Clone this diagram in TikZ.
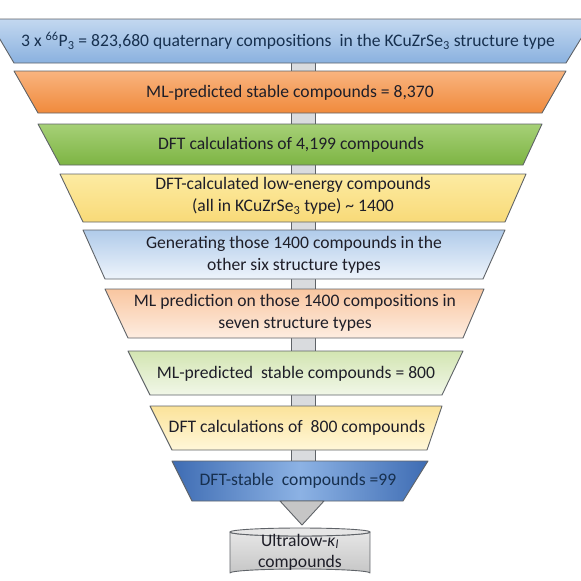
\documentclass[tikz,border=0pt]{standalone}
\usepackage{fontspec}
\setmainfont{Carlito}
\usepackage{tikz}

\definecolor{edgegray}{HTML}{5F6368}
\definecolor{linkgray}{HTML}{D9DBDE}
\definecolor{inkdark}{HTML}{1E1E28}
\definecolor{inknavy}{HTML}{17304F}
\definecolor{boxAtop}{HTML}{C3D8F0}
\definecolor{boxAbot}{HTML}{8AB1DF}
\definecolor{boxBtop}{HTML}{F9B47F}
\definecolor{boxBbot}{HTML}{F08A3C}
\definecolor{boxCtop}{HTML}{A6D077}
\definecolor{boxCbot}{HTML}{7DB443}
\definecolor{boxDtop}{HTML}{FDEBA2}
\definecolor{boxDbot}{HTML}{F8DA78}
\definecolor{boxEtop}{HTML}{B0CBEA}
\definecolor{boxEbot}{HTML}{EEF4FB}
\definecolor{boxFtop}{HTML}{F9C6A0}
\definecolor{boxFbot}{HTML}{FDEDE1}
\definecolor{boxGtop}{HTML}{D3E5B2}
\definecolor{boxGbot}{HTML}{F1F7E8}
\definecolor{boxHtop}{HTML}{FBE39A}
\definecolor{boxHbot}{HTML}{FFF7D9}
\definecolor{boxIside}{HTML}{3E6CB3}
\definecolor{boxImid}{HTML}{8CB2E4}
\definecolor{cyltop}{HTML}{E6E6E6}
\definecolor{cylbot}{HTML}{C6C6C6}

\begin{document}
\begin{tikzpicture}[x=1pt,y=-1pt,
	stage/.style={draw=edgegray,line width=0.9pt,line join=round},
	link/.style={draw=edgegray,fill=linkgray,line width=0.9pt},
	lbl/.style={align=center,text=inkdark,inner sep=0pt,font=\fontsize{17.6}{22.5}\selectfont}]
	\useasboundingbox (0,0) rectangle (581,581);
	\coordinate (B1) at (303,63);  \coordinate (T2) at (303,71);
	\coordinate (B2) at (303,113); \coordinate (T3) at (303,124);
	\coordinate (B3) at (303,165); \coordinate (T4) at (303,174);
	\coordinate (B4) at (303,222); \coordinate (T5) at (303,230);
	\coordinate (B5) at (303,279); \coordinate (T6) at (303,289);
	\coordinate (B6) at (303,338); \coordinate (T7) at (303,351);
	\coordinate (B7) at (303,395); \coordinate (T8) at (303,406);
	\coordinate (B8) at (303,450); \coordinate (T9) at (303,461);
	\coordinate (B9) at (302,501); \coordinate (T10) at (300,528);
	\draw[link] ([xshift=-12pt,yshift=2pt]B1) rectangle ([xshift=12pt,yshift=-2pt]T2);
	\draw[link] ([xshift=-12pt,yshift=2pt]B2) rectangle ([xshift=12pt,yshift=-2pt]T3);
	\draw[link] ([xshift=-12pt,yshift=2pt]B3) rectangle ([xshift=12pt,yshift=-2pt]T4);
	\draw[link] ([xshift=-12pt,yshift=2pt]B4) rectangle ([xshift=12pt,yshift=-2pt]T5);
	\draw[link] ([xshift=-12pt,yshift=2pt]B5) rectangle ([xshift=12pt,yshift=-2pt]T6);
	\draw[link] ([xshift=-12pt,yshift=2pt]B6) rectangle ([xshift=12pt,yshift=-2pt]T7);
	\draw[link] ([xshift=-12pt,yshift=2pt]B7) rectangle ([xshift=12pt,yshift=-2pt]T8);
	\draw[link] ([xshift=-12pt,yshift=2pt]B8) rectangle ([xshift=12pt,yshift=-2pt]T9);
	\draw[stage,top color=boxAtop,bottom color=boxAbot] (-12,19) -- (593,19) -- (566,63) -- (14,63) -- cycle;
	\draw[stage,top color=boxBtop,bottom color=boxBbot] (14,71) -- (566,71) -- (542,113) -- (38,113) -- cycle;
	\draw[stage,top color=boxCtop,bottom color=boxCbot] (38,124) -- (542,124) -- (523,165) -- (60,165) -- cycle;
	\draw[stage,top color=boxDtop,bottom color=boxDbot] (60,174) -- (526,174) -- (505,222) -- (83,222) -- cycle;
	\draw[stage,top color=boxEtop,bottom color=boxEbot] (83,230) -- (505,230) -- (483,279) -- (105,279) -- cycle;
	\draw[stage,top color=boxFtop,bottom color=boxFbot] (105,289) -- (484,289) -- (463,338) -- (128,338) -- cycle;
	\draw[stage,top color=boxGtop,bottom color=boxGbot] (128,351) -- (463,351) -- (442,395) -- (150,395) -- cycle;
	\draw[stage,top color=boxHtop,bottom color=boxHbot] (150,406) -- (442,406) -- (427,450) -- (172,450) -- cycle;
	\draw[stage,left color=boxIside,right color=boxIside,middle color=boxImid] (172,461) -- (428,461) -- (403,501) -- (192,501) -- cycle;
	\draw[stage,fill=gray!45] ([xshift=-22pt]B9) -- ([xshift=22pt]B9) -- ([yshift=-24pt]B9) -- cycle;
	\draw[stage,top color=cyltop,bottom color=cylbot] (230,532) -- (230,573) arc (180:360:70 and 4) -- (370,532) arc (0:180:70 and 4) -- cycle;
	\draw[stage,fill=cyltop] ([yshift=-4pt]T10) ellipse (70 and 4);
	\node[lbl,text=inknavy] (s1) at (288,41) {3 x \textsuperscript{66}P\textsubscript{3} = 823,680 quaternary compositions\ \ in the KCuZrSe\textsubscript{3} structure type};
	\node[lbl] (s2) at (290,93) {ML-predicted stable compounds = 8,370};
	\node[lbl] (s3) at (291,145) {DFT calculations of 4,199 compounds};
	\node[lbl] (s4) at (293,196) {DFT-calculated low-energy compounds\\(all in KCuZrSe\textsubscript{3} type) \textasciitilde{} 1400};
	\node[lbl] (s5) at (294,255) {Generating those 1400 compounds in the\\other six structure types};
	\node[lbl] (s6) at (295,313) {ML prediction on those 1400 compositions in\\seven structure types};
	\node[lbl] (s7) at (296,374) {ML-predicted\ \ stable compounds = 800};
	\node[lbl] (s8) at (297,428) {DFT calculations of\ \ 800 compounds};
	\node[lbl,text=inknavy] (s9) at (298,481) {DFT-stable\ \ compounds =99};
	\node[lbl,font=\fontsize{17.6}{21}\selectfont] (s10) at (300,552) {Ultralow-\textit{κ}\textsubscript{\textit{l}}\\compounds};
\end{tikzpicture}
\end{document}
